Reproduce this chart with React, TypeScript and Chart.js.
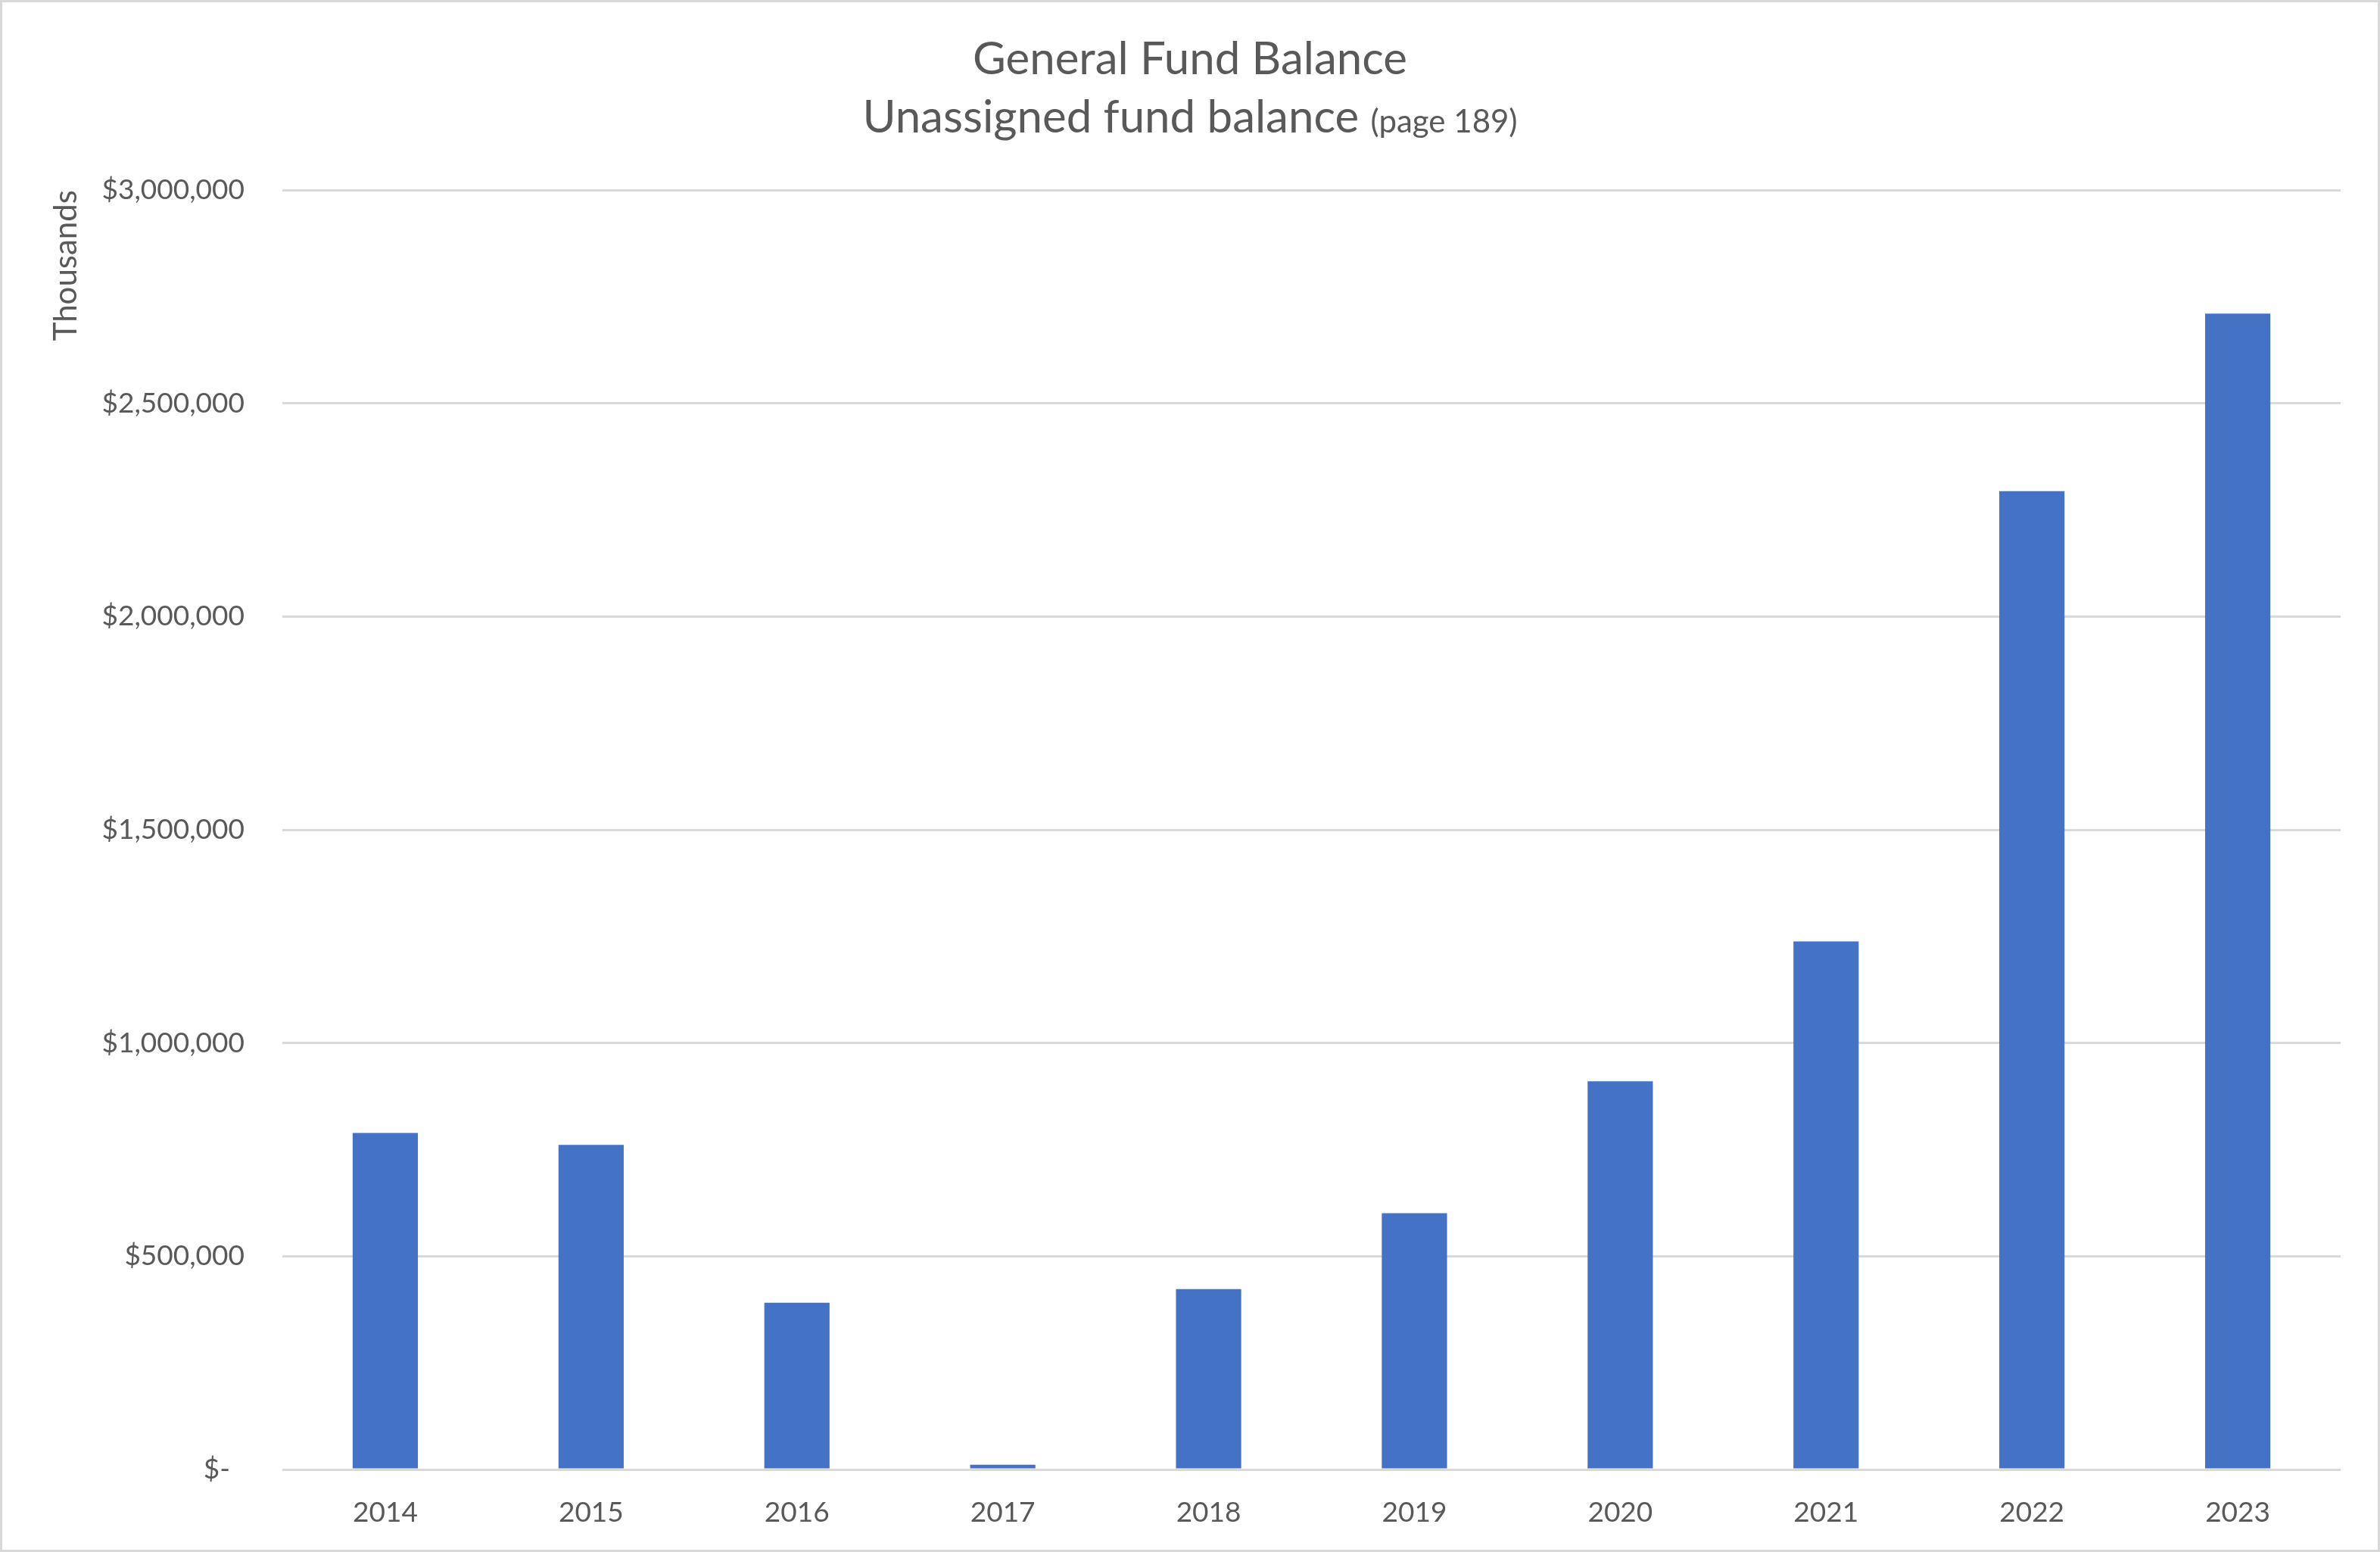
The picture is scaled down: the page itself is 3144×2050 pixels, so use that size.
import React, { useEffect, useRef } from 'react';
import { Chart, registerables } from 'chart.js';

Chart.register(...registerables);

const years = ['2014', '2015', '2016', '2017', '2018', '2019', '2020', '2021', '2022', '2023'];
const unassignedBalance = [789000, 761000, 391000, 11000, 423000, 601000, 910000, 1238000, 2294000, 2710000];

const titleText = 'General Fund Balance';
const subtitleText = 'Unassigned fund balance ';
const subtitleNote = '(page 189)';
const axisTitle = 'Thousands';

const FONT = 'Lato, "Open Sans", sans-serif';
const TEXT = '#595959';
const GRID = '#d9d9d9';
const BAR = '#4472c4';

const W = 3144;
const H = 2050;

const frame = {
  id: 'frame',
  beforeDraw(chart: Chart) {
    const { ctx } = chart;
    ctx.save();
    ctx.fillStyle = '#ffffff';
    ctx.fillRect(0, 0, chart.width, chart.height);
    ctx.strokeStyle = GRID;
    ctx.lineWidth = 3;
    ctx.strokeRect(1.5, 1.5, chart.width - 3, chart.height - 3);
    ctx.restore();
  },
  afterDraw(chart: Chart) {
    const { ctx } = chart;
    const cx = chart.width / 2;
    ctx.save();
    ctx.fillStyle = TEXT;
    ctx.textBaseline = 'alphabetic';
    ctx.textAlign = 'center';
    ctx.font = `60px ${FONT}`;
    ctx.fillText(titleText, cx, 98);

    // second line mixes two sizes
    ctx.textAlign = 'left';
    ctx.font = `60px ${FONT}`;
    const w1 = ctx.measureText(subtitleText).width;
    ctx.font = `42px ${FONT}`;
    const w2 = ctx.measureText(subtitleNote).width;
    const x0 = cx - (w1 + w2) / 2;
    ctx.font = `60px ${FONT}`;
    ctx.fillText(subtitleText, x0, 175);
    ctx.font = `42px ${FONT}`;
    ctx.fillText(subtitleNote, x0 + w1, 175);
    ctx.restore();
  },
};

const FundBalanceChart: React.FC = () => {
  const canvasRef = useRef<HTMLCanvasElement>(null);

  useEffect(() => {
    document.body.style.margin = '0';
    if (!canvasRef.current) return;

    const chart = new Chart(canvasRef.current, {
      type: 'bar',
      data: {
        labels: years,
        datasets: [
          {
            label: 'Unassigned fund balance',
            data: unassignedBalance,
            backgroundColor: BAR,
            barPercentage: 0.317,
            categoryPercentage: 1,
          },
        ],
      },
      options: {
        responsive: false,
        animation: false,
        devicePixelRatio: 1,
        layout: {
          padding: { top: 251, right: 52, bottom: 0, left: 40 },
        },
        plugins: {
          legend: { display: false },
          title: { display: false },
          tooltip: { enabled: false },
        },
        scales: {
          x: {
            grid: { display: false },
            border: { display: false },
            ticks: {
              color: TEXT,
              font: { family: FONT, size: 37 },
              padding: 27,
            },
            afterFit: (scale: any) => {
              scale.height = H - 1941;
            },
          },
          y: {
            min: 0,
            max: 3000000,
            border: { display: false },
            grid: { color: GRID, lineWidth: 3, drawTicks: false },
            ticks: {
              stepSize: 500000,
              color: TEXT,
              font: { family: FONT, size: 37 },
              padding: 50,
              callback: (v: any) => (Number(v) === 0 ? '$-  ' : '$' + Number(v).toLocaleString('en-US')),
            },
            title: {
              display: true,
              text: axisTitle,
              align: 'end',
              color: TEXT,
              font: { family: FONT, size: 42 },
              padding: { top: 22, bottom: 0 },
            },
            afterFit: (scale: any) => {
              scale.width = 373 - 40;
            },
          },
        },
      },
      plugins: [frame],
    });

    return () => {
      chart.destroy();
    };
  }, []);

  return <canvas ref={canvasRef} width={W} height={H} style={{ display: 'block' }} />;
};

export default function App() {
  return <FundBalanceChart />;
}
